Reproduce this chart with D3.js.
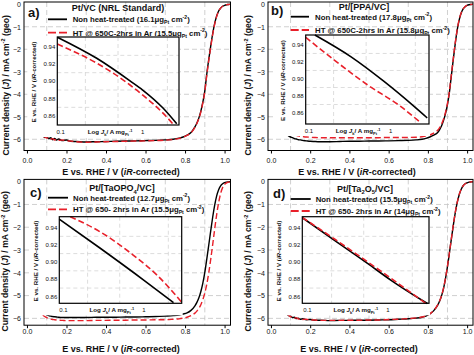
<!DOCTYPE html>
<html><head><meta charset="utf-8">
<script src="https://cdn.jsdelivr.net/npm/d3@7"></script>
<style>body{margin:0;background:#fff}svg{display:block}text{font-family:"Liberation Sans",Arial,sans-serif;fill:#111}</style>
</head><body><svg id="chart" width="474" height="355"></svg>
<script>
// ---------- data ----------
const potentials = [0.08,0.09,0.10,0.11,0.12,0.13,0.14,0.15,0.16,0.18,0.20,0.22,0.25,0.30,0.35,0.40,0.45,0.50,0.55,0.60,0.65,0.70,0.74,0.77,0.79,0.81,0.83,0.85,0.86,0.87,0.88,0.89,0.90,0.91,0.92,0.93,0.94,0.95,0.96,0.97,0.98,0.99,1.00,1.01,1.02,1.03];

const aBlack = [-5.82,-5.92,-5.88,-5.97,-5.93,-6.02,-5.96,-6.04,-5.99,-6.06,-6.03,-6.09,-6.10,-6.12,-6.11,-6.10,-6.09,-6.08,-6.07,-6.06,-6.05,-6.03,-6.00,-5.95,-5.90,-5.82,-5.70,-5.45,-5.28,-5.05,-4.75,-4.35,-3.85,-3.10,-2.45,-1.85,-1.30,-0.85,-0.52,-0.30,-0.17,-0.09,-0.05,-0.02,-0.01,0.00];
const aRed   = [-5.86,-5.90,-5.95,-5.92,-6.00,-5.97,-6.03,-6.00,-6.05,-6.03,-6.07,-6.08,-6.11,-6.13,-6.12,-6.11,-6.10,-6.09,-6.08,-6.07,-6.06,-6.04,-6.01,-5.96,-5.91,-5.83,-5.71,-5.47,-5.30,-5.08,-4.78,-4.38,-3.88,-3.15,-2.50,-1.90,-1.34,-0.88,-0.54,-0.31,-0.17,-0.09,-0.05,-0.02,-0.01,0.00];
const bBlack = [-5.78,-5.85,-5.90,-5.93,-5.97,-5.99,-6.02,-6.03,-6.05,-6.07,-6.09,-6.10,-6.11,-6.11,-6.10,-6.09,-6.09,-6.08,-6.08,-6.07,-6.06,-6.05,-6.03,-6.00,-5.96,-5.90,-5.82,-5.70,-5.57,-5.40,-5.16,-4.85,-4.45,-3.90,-3.15,-2.42,-1.72,-1.12,-0.68,-0.39,-0.21,-0.11,-0.05,-0.02,-0.01,0.00];
const bRed   = [-5.58,-5.66,-5.72,-5.76,-5.80,-5.83,-5.85,-5.87,-5.88,-5.90,-5.91,-5.92,-5.93,-5.93,-5.93,-5.93,-5.93,-5.93,-5.93,-5.92,-5.92,-5.92,-5.91,-5.89,-5.86,-5.81,-5.73,-5.60,-5.48,-5.32,-5.10,-4.80,-4.40,-3.85,-3.10,-2.38,-1.68,-1.10,-0.66,-0.38,-0.20,-0.10,-0.05,-0.02,-0.01,0.00];
const cBlack = [-5.72,-5.80,-5.85,-5.88,-5.90,-5.92,-5.93,-5.94,-5.95,-5.96,-5.96,-5.96,-5.96,-5.96,-5.95,-5.95,-5.95,-5.94,-5.94,-5.93,-5.92,-5.90,-5.88,-5.85,-5.81,-5.76,-5.65,-5.45,-5.30,-5.10,-4.82,-4.45,-3.98,-3.40,-2.78,-2.15,-1.55,-1.03,-0.62,-0.35,-0.18,-0.09,-0.04,-0.02,-0.01,0.00];
const cRed   = [-5.85,-5.92,-5.97,-6.00,-6.03,-6.05,-6.06,-6.07,-6.08,-6.09,-6.10,-6.10,-6.10,-6.10,-6.09,-6.09,-6.08,-6.08,-6.07,-6.07,-6.06,-6.06,-6.04,-6.02,-5.99,-5.95,-5.88,-5.77,-5.68,-5.56,-5.40,-5.18,-4.88,-4.50,-4.00,-3.40,-2.75,-2.08,-1.45,-0.92,-0.52,-0.26,-0.12,-0.05,-0.02,0.00];
const dBlack = [-5.78,-5.88,-5.90,-5.96,-5.95,-6.01,-5.99,-6.04,-6.02,-6.06,-6.05,-6.08,-6.08,-6.10,-6.09,-6.09,-6.08,-6.08,-6.07,-6.06,-6.04,-6.02,-5.99,-5.95,-5.90,-5.81,-5.66,-5.42,-5.24,-5.00,-4.68,-4.25,-3.72,-3.12,-2.50,-1.90,-1.35,-0.90,-0.56,-0.33,-0.18,-0.09,-0.05,-0.02,-0.01,0.00];
const dRed   = [-5.82,-5.85,-5.93,-5.92,-5.99,-5.97,-6.03,-6.01,-6.05,-6.04,-6.07,-6.07,-6.09,-6.09,-6.09,-6.08,-6.08,-6.07,-6.07,-6.05,-6.04,-6.01,-5.98,-5.94,-5.89,-5.80,-5.65,-5.41,-5.23,-4.99,-4.66,-4.23,-3.70,-3.10,-2.48,-1.88,-1.33,-0.89,-0.55,-0.32,-0.18,-0.09,-0.05,-0.02,-0.01,0.00];

// Tafel insets: kinetic current (A/mgPt) and potential (V)
const aInsetBlackJ = [0.091,0.275,0.70,1.00,1.78,2.60];
const aInsetBlackE = [0.951,0.9266,0.9006,0.890,0.8689,0.851];
const aInsetRedJ   = [0.091,0.275,0.70,1.00,1.78,2.36];
const aInsetRedE   = [0.943,0.921,0.8958,0.8842,0.863,0.8504];
const bInsetBlackJ = [0.118,0.324,0.828,1.93,2.80];
const bInsetBlackE = [0.9517,0.9263,0.8971,0.8678,0.8542];
const bInsetRedJ   = [0.091,0.202,0.517,1.32,2.22];
const bInsetRedE   = [0.949,0.9225,0.8932,0.8678,0.8503];
const cInsetBlackJ = [0.089,0.284,1.00,2.32];
const cInsetBlackE = [0.9501,0.9165,0.879,0.853];
const cInsetRedJ   = [0.122,0.284,0.734,1.45,2.90];
const cInsetRedE   = [0.9528,0.9354,0.9083,0.885,0.854];
const dInsetBlackJ = [0.087,0.215,0.557,1.08,3.08];
const dInsetBlackE = [0.9516,0.9257,0.8987,0.8793,0.852];
const dInsetRedJ   = [0.087,0.215,0.557,1.08,2.95];
const dInsetRedE   = [0.9518,0.9272,0.9005,0.8815,0.852];

const xTicks = [0.0,0.2,0.4,0.6,0.8,1.0];
const yTicks = [0,-1,-2,-3,-4,-5,-6];
const xGrid = [0.1,0.3,0.5,0.7,0.9];
const insetXTicks = [0.1,1];
const insetYTicks = [0.86,0.88,0.90,0.92,0.94];
const insetYGrid = [0.87,0.89,0.91,0.93];
const insetXGrid = [0.2,0.5,2];

const panelLabels = ["a)","b)","c)","d)"];
const panelTitles = [
  ["Pt/VC (NRL Standard)"],
  ["Pt/[PPA/VC]"],
  ["Pt/[TaOPO",["4","sub"],"/VC]"],
  ["Pt/[Ta",["2","sub"],"O",["5","sub"],"/VC]"]
];
const legendBlack = [
  ["Non heat-treated (16.1μg",["Pt","sub"]," cm",["-2","sup"],")"],
  ["Non heat-treated (17.8μg",["Pt","sub"]," cm",["-2","sup"],")"],
  ["Non heat-treated (12.7μg",["Pt","sub"]," cm",["-2","sup"],")"],
  ["Non heat-treated (15.5μg",["Pt","sub"]," cm",["-2","sup"],")"]
];
const legendRed = [
  ["HT @ 650C-2hrs in Ar (15.5μg",["Pt","sub"]," cm",["-2","sup"],")"],
  ["HT @ 650C-2hrs in Ar (15.8μg",["Pt","sub"]," cm",["-2","sup"],")"],
  ["HT  @ 650- 2hrs in Ar (15.5μg",["Pt","sub"]," cm",["-2","sup"],")"],
  ["HT  @ 650- 2hrs in Ar (14μg",["Pt","sub"]," cm",["-2","sup"],")"]
];

// ---------- layout ----------
const RED = "#e8202a";
const panels = [
  {frame:[24,230.5,2,150.5], yMin:-6.5, black:aBlack, red:aRed, lab:[28,16.5], title:[118,10.5], leg:[48,67,19.3,32.7,72.7], tickY:162.5, xTitle:[121,175], yTitleX:8.5,
   inset:{box:[57.3,179,37,125], xd:[0.0909,2.77], yd:[0.8496,0.9512], bj:aInsetBlackJ, be:aInsetBlackE, rj:aInsetRedJ, re:aInsetRedE}},
  {frame:[268,473,2,150.5], yMin:-6.5, black:bBlack, red:bRed, lab:[271,15], title:[364,10], leg:[290.7,309,16.7,30,315], tickY:162.5, xTitle:[357,175], yTitleX:251,
   inset:{box:[305.7,429,35,124], xd:[0.0911,2.94], yd:[0.8471,0.9517], bj:bInsetBlackJ, be:bInsetBlackE, rj:bInsetRedJ, re:bInsetRedE}},
  {frame:[24,230.5,179.4,325.2], yMin:-6.3, black:cBlack, red:cRed, lab:[30,196.5], title:[122,191], leg:[48,68,197.7,209.3,73], tickY:334, xTitle:[121,352], yTitleX:8.5,
   inset:{box:[59.3,181.7,216.7,303.3], xd:[0.0892,2.93], yd:[0.8523,0.9528], bj:cInsetBlackJ, be:cInsetBlackE, rj:cInsetRedJ, re:cInsetRedE}},
  {frame:[268,473,179.4,325.2], yMin:-6.3, black:dBlack, red:dRed, lab:[273,197.5], title:[365,191.5], leg:[290.7,310.7,199,211,315.7], tickY:334, xTitle:[359,352], yTitleX:251,
   inset:{box:[302.3,429,216.7,303.3], xd:[0.0867,3.22], yd:[0.8523,0.9528], bj:dInsetBlackJ, be:dInsetBlackE, rj:dInsetRedJ, re:dInsetRedE}}
];

const svg = d3.select("#chart");

function rich(g, x, y, parts, o) {
  const t = g.append("text").attr("x", x).attr("y", y)
    .attr("font-size", o.size).attr("font-weight", o.weight || "bold")
    .attr("text-anchor", o.anchor || "start");
  if (o.rotate) t.attr("transform", `rotate(-90,${x},${y})`);
  let shift = 0;
  parts.forEach(p => {
    const s = typeof p === "string" ? p : p[0];
    const k = typeof p === "string" ? "" : p[1];
    const target = k === "sub" ? o.size * 0.3 : k === "sup" ? -o.size * 0.4 : 0;
    const ts = t.append("tspan").attr("dy", target - shift).text(s);
    shift = target;
    if (k === "sub" || k === "sup") ts.attr("font-size", o.size * 0.65);
    if (k === "i") ts.attr("font-style", "italic");
  });
  return t;
}

panels.forEach((p, i) => {
  const [x0, x1, y0, y1] = p.frame;
  const g = svg.append("g");
  const x = d3.scaleLinear().domain([-0.015, 1.03]).range([x0, x1]);
  const y = d3.scaleLinear().domain([p.yMin, 0.1]).range([y1, y0]);

  // grid
  g.selectAll(".vg").data(xGrid).join("line")
    .attr("x1", d => x(d)).attr("x2", d => x(d)).attr("y1", y0).attr("y2", y1)
    .attr("stroke", "#c4c4c4").attr("stroke-width", 0.8).attr("stroke-dasharray", "5,3");
  g.selectAll(".hg").data(yTicks.filter(d => d < 0)).join("line")
    .attr("x1", x0).attr("x2", x1).attr("y1", d => y(d)).attr("y2", d => y(d))
    .attr("stroke", "#c4c4c4").attr("stroke-width", 0.8).attr("stroke-dasharray", "5,3");

  // axes
  const xa = g.append("g").attr("transform", `translate(0,${y1})`)
    .call(d3.axisBottom(x).tickValues(xTicks).tickSize(3).tickFormat(d3.format(".1f")));
  xa.select(".domain").remove();
  xa.selectAll("text").attr("y", null).attr("dy", null).attr("transform", `translate(0,${p.tickY - y1})`)
    .attr("font-size", 7).attr("font-family", null).attr("fill", "#111");
  const ya = g.append("g").attr("transform", `translate(${x0},0)`)
    .call(d3.axisLeft(y).tickValues(yTicks).tickSize(0).tickPadding(3).tickFormat(d3.format("d")));
  ya.select(".domain").remove();
  ya.selectAll("text").attr("font-size", 7).attr("font-family", null).attr("fill", "#111");

  // curves
  const line = d3.line().x(d => x(d[0])).y(d => y(d[1])).curve(d3.curveMonotoneX);
  g.append("path").datum(potentials.map((e, k) => [e, p.black[k]])).attr("d", line)
    .attr("fill", "none").attr("stroke", "#000").attr("stroke-width", 1.4);
  g.append("path").datum(potentials.map((e, k) => [e, p.red[k]])).attr("d", line)
    .attr("fill", "none").attr("stroke", RED).attr("stroke-width", 1.4).attr("stroke-dasharray", "6,3");

  // frame
  g.append("rect").attr("x", x0).attr("y", y0).attr("width", x1 - x0).attr("height", y1 - y0)
    .attr("fill", "none").attr("stroke", "#000").attr("stroke-width", 1);

  // titles
  rich(g, p.xTitle[0], p.xTitle[1], ["E vs. RHE / V (", ["iR", "i"], "-corrected)"], {size: 9, anchor: "middle"});
  rich(g, p.yTitleX, (y0 + y1) / 2 + 9, ["Current density (", ["J", "i"], ") / mA cm", ["-2", "sup"], " (geo)"], {size: 8.6, anchor: "middle", rotate: true});

  // panel label & legend
  g.append("text").attr("x", p.lab[0]).attr("y", p.lab[1]).attr("font-size", 13).attr("font-weight", "bold").text(panelLabels[i]);
  rich(g, p.title[0], p.title[1], panelTitles[i], {size: 9, anchor: "middle"});
  const [lx0, lx1, ly1, ly2, tx] = p.leg;
  g.append("line").attr("x1", lx0).attr("x2", lx1).attr("y1", ly1).attr("y2", ly1).attr("stroke", "#000").attr("stroke-width", 1.8);
  g.append("line").attr("x1", lx0).attr("x2", lx1).attr("y1", ly2).attr("y2", ly2).attr("stroke", RED).attr("stroke-width", 1.8).attr("stroke-dasharray", "8,3");
  rich(g, tx, ly1 + 2.8, legendBlack[i], {size: 7.8});
  rich(g, tx, ly2 + 2.8, legendRed[i], {size: 7.8});

  // inset
  const s = p.inset;
  const [bx0, bx1, by0, by1] = s.box;
  const ix = d3.scaleLog().domain(s.xd).range([bx0, bx1]);
  const iy = d3.scaleLinear().domain(s.yd).range([by1, by0]);
  const ig = g.append("g");
  ig.append("rect").attr("x", bx0 - 30).attr("y", by0 - 1).attr("width", bx1 - bx0 + 31).attr("height", by1 - by0 + 13).attr("fill", "#fff");
  ig.selectAll(".ivg").data(insetXGrid).join("line")
    .attr("x1", d => ix(d)).attr("x2", d => ix(d)).attr("y1", by0).attr("y2", by1)
    .attr("stroke", "#cfcfcf").attr("stroke-width", 0.7).attr("stroke-dasharray", "4,3");
  ig.selectAll(".ihg").data(insetYGrid).join("line")
    .attr("x1", bx0).attr("x2", bx1).attr("y1", d => iy(d)).attr("y2", d => iy(d))
    .attr("stroke", "#cfcfcf").attr("stroke-width", 0.7).attr("stroke-dasharray", "4,3");
  const iline = d3.line().x(d => ix(d[0])).y(d => iy(d[1])).curve(d3.curveMonotoneX);
  ig.append("path").datum(s.bj.map((v, k) => [v, s.be[k]])).attr("d", iline)
    .attr("fill", "none").attr("stroke", "#000").attr("stroke-width", 1.6);
  ig.append("path").datum(s.rj.map((v, k) => [v, s.re[k]])).attr("d", iline)
    .attr("fill", "none").attr("stroke", RED).attr("stroke-width", 1.6).attr("stroke-dasharray", "6,3");
  ig.append("rect").attr("x", bx0).attr("y", by0).attr("width", bx1 - bx0).attr("height", by1 - by0)
    .attr("fill", "none").attr("stroke", "#000").attr("stroke-width", 1.2);
  ig.selectAll(".iyt").data(insetYTicks).join("text")
    .attr("x", bx0 - 2).attr("y", d => iy(d) + 2).attr("text-anchor", "end").attr("font-size", 6)
    .text(d => d3.format(".2f")(d));
  ig.selectAll(".ixt").data(insetXTicks).join("text")
    .attr("x", d => ix(d)).attr("y", by1 + 9).attr("text-anchor", "middle").attr("font-size", 6)
    .text(d => String(d));
  rich(ig, ix(0.4), by1 + 9, ["Log ", ["J", "i"], ["k", "sub"], "/ A mg", ["Pt", "sub"], ["-1", "sup"]], {size: 6.2, anchor: "middle"});
  rich(ig, bx0 - 21, (by0 + by1) / 2 + 1, ["E vs. RHE / V (", ["iR", "i"], "-corrected)"], {size: 6.2, anchor: "middle", rotate: true});
});
</script></body></html>
